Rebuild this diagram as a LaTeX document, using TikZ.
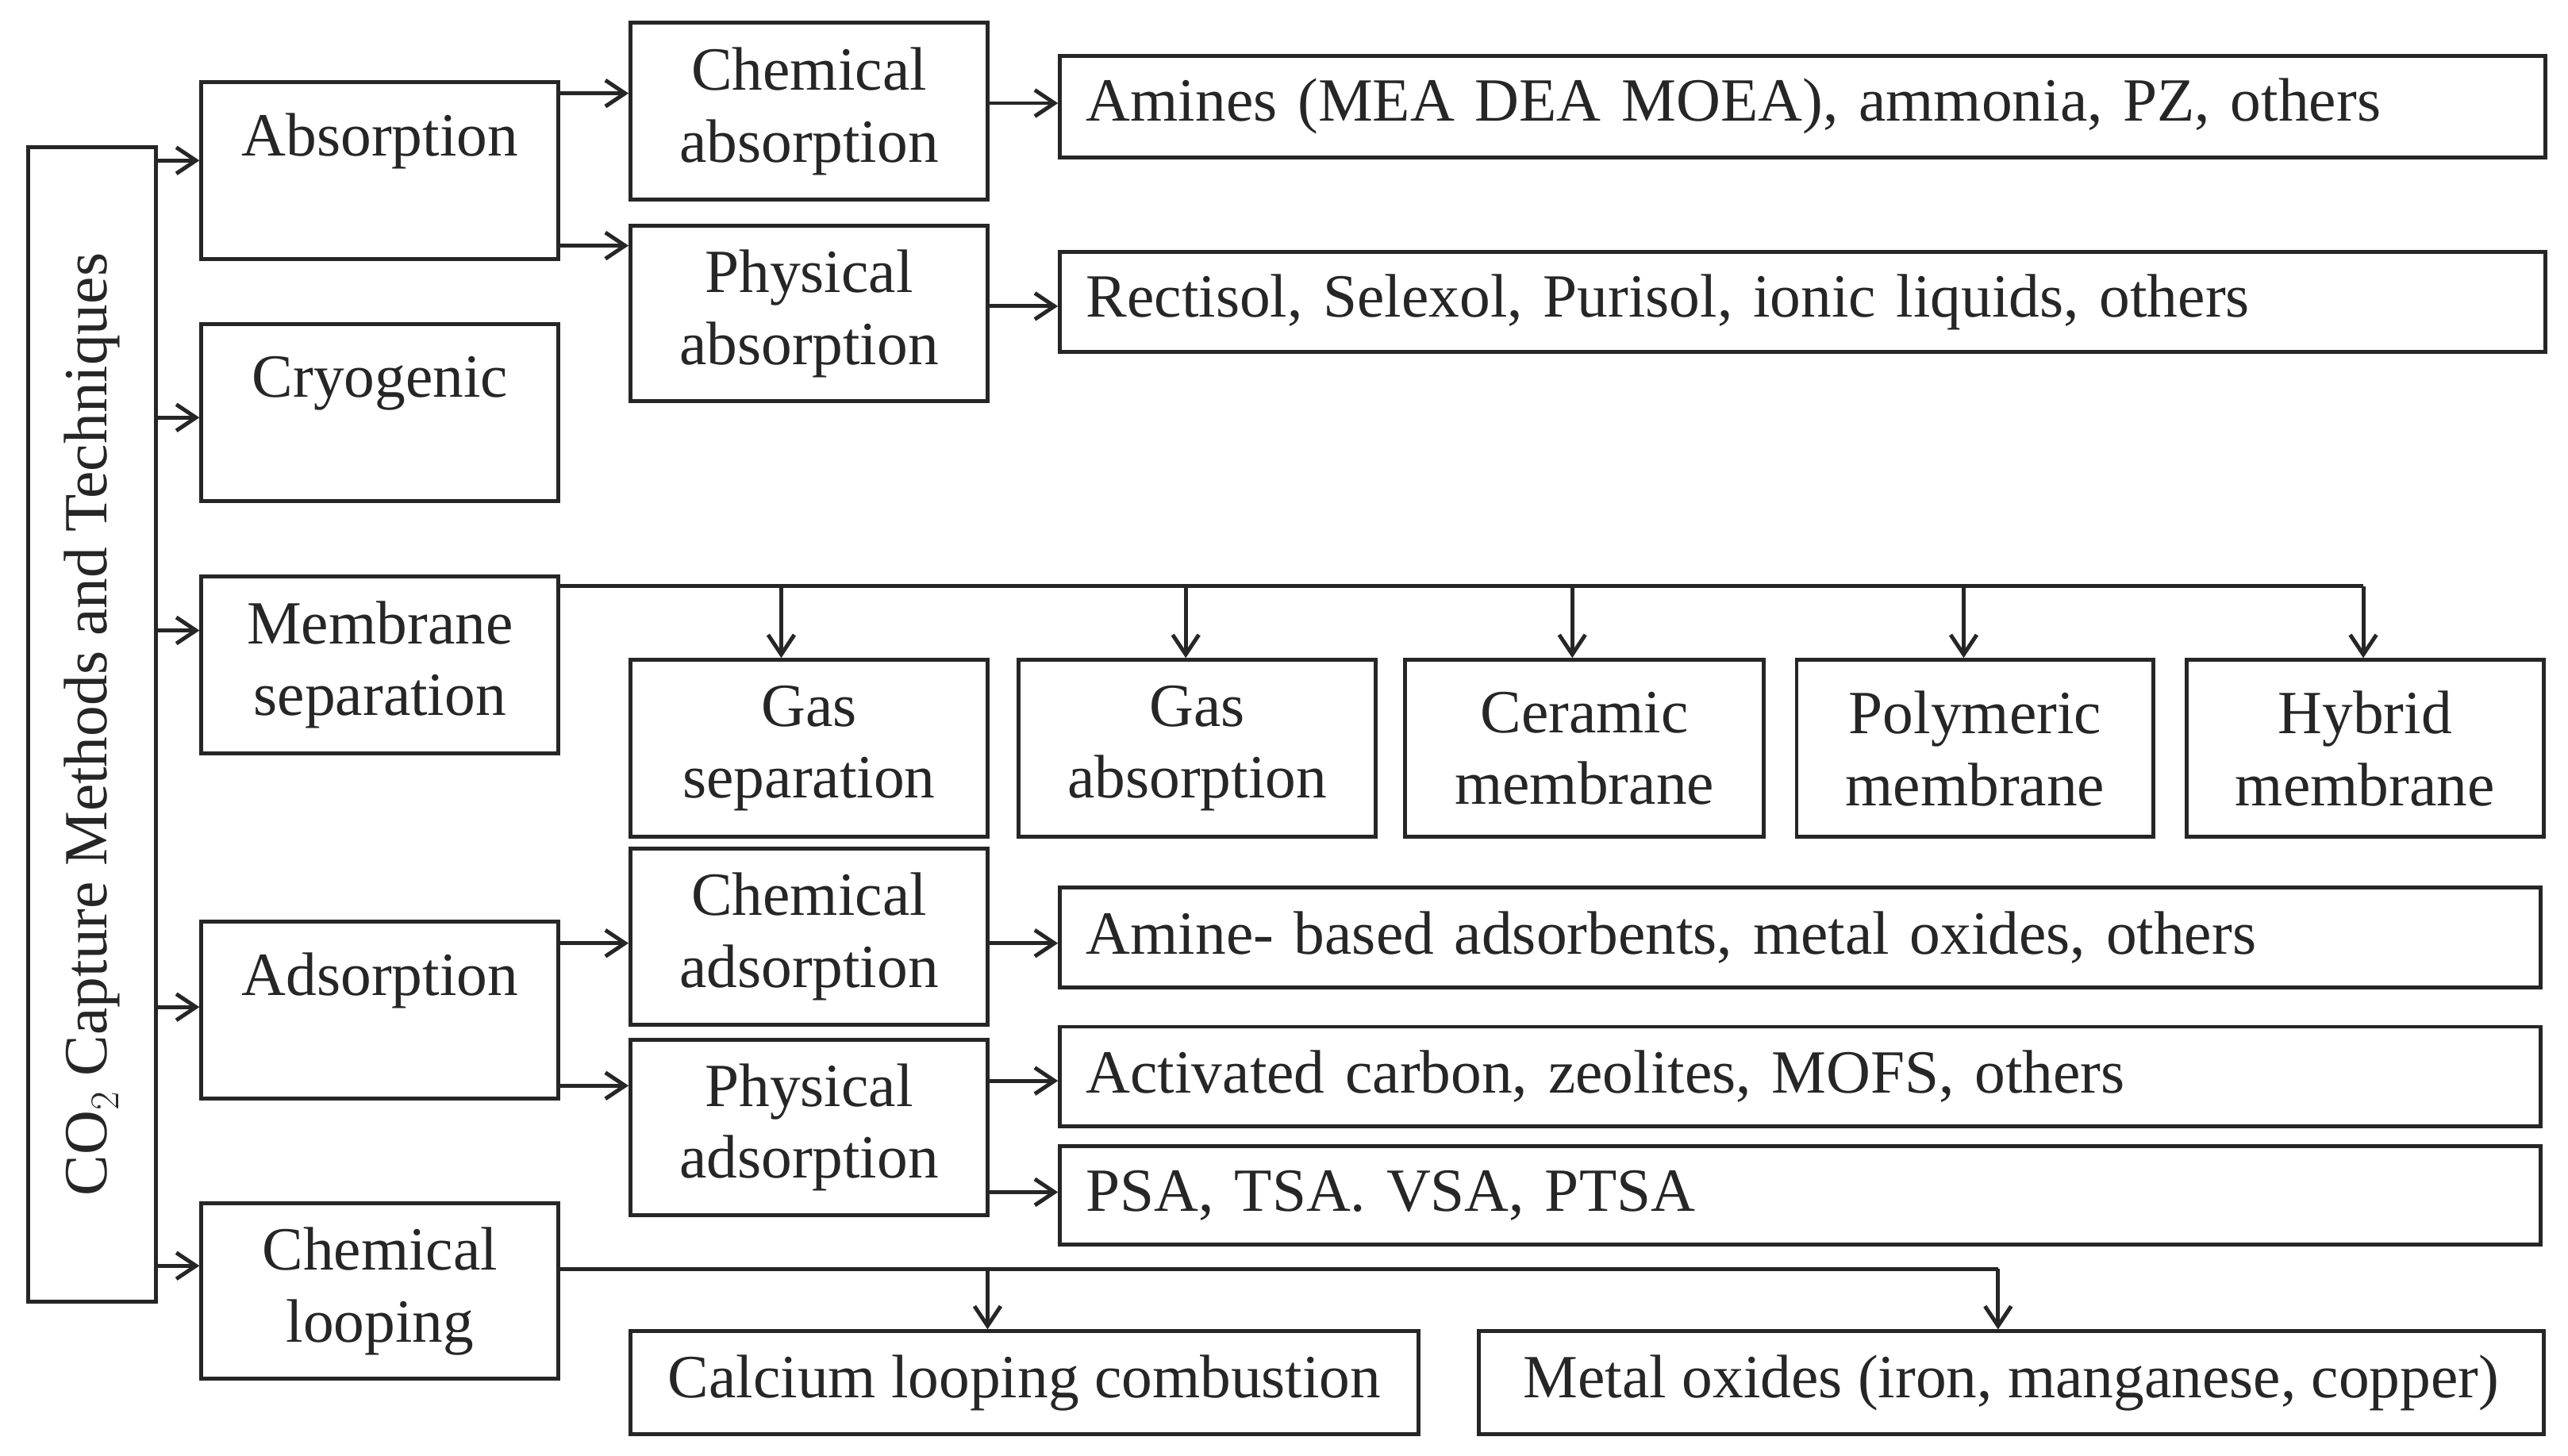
\documentclass[tikz,border=0pt]{standalone}
\usepackage{fontspec}
\setmainfont{Liberation Serif}
\usetikzlibrary{arrows.meta}
\begin{document}
\begin{tikzpicture}[x=1pt,y=-1pt,
  bx/.style={draw=black!85,line width=2.4pt,align=center,inner sep=0pt,text=black!85,
    font=\fontsize{37.5}{44}\selectfont},
  ar/.style={draw=black!85,line width=2.4pt,-{Straight Barb[length=12pt,width=16pt,line width=2.4pt]}},
  ln/.style={draw=black!85,line width=2.4pt}]
\useasboundingbox (0,0) rectangle (1568,889);
\newcommand\bx[6]{\node[bx,minimum width={#4-#2},minimum height={#5-#3}] (#1) at ({(#2+#4)/2},{(#3+#5)/2}) {#6};}
\newcommand\lbx[6]{\node[bx,minimum width={#4-#2},minimum height={#5-#3},anchor=west,align=left,text width={#4-#2-32}] (#1) at (#2,{(#3+#5)/2}) {#6};}
\node[bx,minimum width=705,minimum height=78,rotate=90] (main) at (56,442.5) {CO$_2$ Capture Methods and Techniques};
\bx{abs}{123}{50}{341}{158}{Absorption\\~}
\bx{cryo}{123}{198}{341}{306}{Cryogenic\\~}
\bx{mem}{123}{352}{341}{460}{Membrane\\separation}
\bx{ads}{123}{563}{341}{671}{Adsorption\\~}
\bx{loop}{123}{735}{341}{842}{Chemical\\looping}
\bx{cabs}{385}{14}{603}{122}{Chemical\\absorption}
\bx{pabs}{385}{138}{603}{245}{Physical\\absorption}
\lbx{amines}{646}{34}{1553}{96}{Amines (MEA DEA MOEA), ammonia, PZ, others}
\lbx{rect}{646}{154}{1553}{215}{Rectisol, Selexol, Purisol, ionic liquids, others}
\bx{m1}{385}{403}{603}{511}{Gas\\separation}
\bx{m2}{622}{403}{840}{511}{Gas\\absorption}
\bx{m3}{858}{403}{1077}{511}{Ceramic\\membrane}
\bx{m4}{1097}{403}{1315}{511}{Polymeric\\membrane}
\bx{m5}{1335}{403}{1553}{511}{Hybrid\\membrane}
\bx{cads}{385}{518}{603}{626}{Chemical\\adsorption}
\bx{pads}{385}{635}{603}{742}{Physical\\adsorption}
\lbx{amb}{646}{542}{1550}{603}{Amine- based adsorbents, metal oxides, others}
\lbx{act}{646}{627}{1550}{688}{Activated carbon, zeolites, MOFS, others}
\lbx{psa}{646}{700}{1550}{760}{PSA, TSA. VSA, PTSA}
\bx{cal}{385}{813}{866}{876}{Calcium looping combustion}
\bx{met}{903}{813}{1553}{876}{Metal oxides (iron, manganese, copper)}
\foreach \n/\y in {abs/98,cryo/255,mem/385,ads/615,loop/773}
  \draw[ar] (main.south |- 0,\y) -- (\n.west |- 0,\y);
\draw[ar] (abs.east |- 0,57) -- (cabs.west |- 0,57);
\draw[ar] (abs.east |- 0,150) -- (pabs.west |- 0,150);
\draw[ar] (cabs.east |- 0,63) -- (amines.west |- 0,63);
\draw[ar] (pabs.east |- 0,187) -- (rect.west |- 0,187);
\draw[ar] (ads.east |- 0,576) -- (cads.west |- 0,576);
\draw[ar] (ads.east |- 0,663) -- (pads.west |- 0,663);
\draw[ar] (cads.east |- 0,576) -- (amb.west |- 0,576);
\draw[ar] (pads.east |- 0,660) -- (act.west |- 0,660);
\draw[ar] (pads.east |- 0,728) -- (psa.west |- 0,728);
\coordinate (mt) at (1443,358);
\draw[ln] (mem.east |- mt) -- (mt);
\foreach \n/\x in {m1/477,m2/724,m3/960,m4/1199,m5/1443}
  \draw[ar] (\x,358) -- (\n.north -| \x,0);
\coordinate (lt) at (1220,775);
\draw[ln] (loop.east |- lt) -- (lt);
\draw[ar] (603,775) -- (cal.north -| 603,0);
\draw[ar] (lt) -- (met.north -| lt);
\end{tikzpicture}
\end{document}
